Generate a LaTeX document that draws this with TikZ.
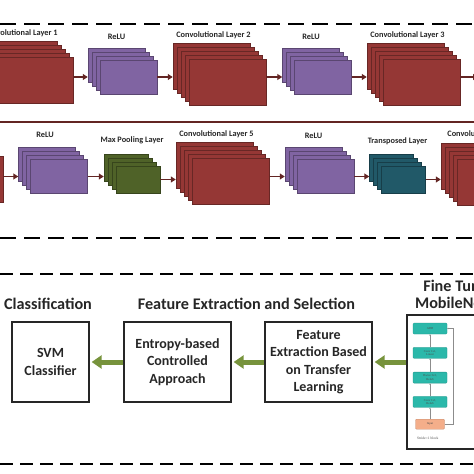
\documentclass[tikz,border=0pt]{standalone}
\usepackage{fontspec}
\setmainfont{Carlito}
\newfontfamily\blockfont{Liberation Serif}
\usetikzlibrary{arrows.meta,positioning,shadows}

\definecolor{convred}{HTML}{953735}
\definecolor{relupurple}{HTML}{8064A2}
\definecolor{poolgreen}{HTML}{4F6228}
\definecolor{transteal}{HTML}{215968}
\definecolor{flowred}{HTML}{632523}
\definecolor{stepgreen}{HTML}{77933C}
\definecolor{blockteal}{HTML}{2BB8AA}
\definecolor{inputsalmon}{HTML}{F4AE8A}

\tikzset{
  sheet/.style 2 args={copy shadow={shadow xshift=-#1,shadow yshift=#1,fill=#2,draw=#2!70!black,line width=.5pt}},
  convstack/.style={fill=convred,draw=convred!70!black,line width=.5pt,inner sep=0pt,minimum width=77pt,minimum height=46pt,
    sheet={16pt}{convred},sheet={12pt}{convred},sheet={8pt}{convred},sheet={4pt}{convred}},
  relustack/.style={fill=relupurple,draw=relupurple!70!black,line width=.5pt,inner sep=0pt,minimum width=57pt,minimum height=34pt,
    sheet={12pt}{relupurple},sheet={8pt}{relupurple},sheet={4pt}{relupurple}},
  smallstack/.style={fill=#1,draw=#1!70!black,line width=.5pt,inner sep=0pt,minimum width=44pt,minimum height=27pt,
    sheet={12pt}{#1},sheet={8pt}{#1},sheet={4pt}{#1}},
  lbl/.style={font=\bfseries\fontsize{8.3}{10}\selectfont,text=black!85,inner sep=0pt},
  head/.style={font=\bfseries\fontsize{16.2}{17}\selectfont,text=black!85,align=center,inner sep=0pt},
  stepbox/.style={draw=black!85,line width=1.3pt,minimum height=80pt,align=center,inner sep=0pt,
    font=\bfseries\fontsize{14}{17.3}\selectfont,text=black!85},
  flow/.style={-{Triangle[length=5pt,width=6pt]},line width=1.8pt,draw=flowred},
  pick/.style={-{Triangle[length=10pt,width=13pt]},line width=5pt,draw=stepgreen,shorten >=2pt},
  sep/.style={line width=2.3pt,dash pattern=on 16pt off 8pt},
  blk/.style={fill=blockteal,draw=blockteal!80!black,line width=.3pt,rounded corners=1pt,minimum width=34pt,minimum height=11pt,
    inner sep=0pt,align=center,font=\blockfont\fontsize{3}{3.4}\selectfont,text=black!70},
  thin/.style={-{Stealth[length=1.6pt,width=1.4pt]},line width=.35pt,draw=black!45}
}

\begin{document}
\begin{tikzpicture}[x=1pt,y=-1pt]
\clip (0,0) rectangle (474,474);

% separators
\draw[sep] (0,24) -- (474,24);
\draw[sep] (0,238) -- (474,238);
\draw[sep,line width=2pt,dash pattern=on 13pt off 7pt] (0,274) -- (474,274);
\draw[sep,line width=2pt,dash pattern=on 13pt off 7pt] (0,464) -- (474,464);

% first row
\node[convstack] (c1) at (34.5,80) {};
\node[relustack] (r1) at (128.5,77) {};
\node[convstack] (c2) at (227.5,82.5) {};
\node[relustack] (r2) at (323,77) {};
\node[convstack] (c3) at (421.5,82) {};
\coordinate (out1) at (478,77);

\node[lbl] (lc1) at ([shift={(-14pt,24pt)}]c1.north) {Convolutional Layer 1};
\node[lbl] (lr1) at ([shift={(-12pt,23pt)}]r1.north) {ReLU};
\node[lbl] (lc2) at ([shift={(-14pt,24pt)}]c2.north) {Convolutional Layer 2};
\node[lbl] (lr2) at ([shift={(-12pt,23pt)}]r2.north) {ReLU};
\node[lbl] (lc3) at ([shift={(-14pt,24pt)}]c3.north) {Convolutional Layer 3};

\draw[flow,shorten >=12pt] (c1.east |- r1.west) -- (r1.west);
\draw[flow,shorten >=16pt] (r1.east) -- (r1.east -| c2.west);
\draw[flow,shorten >=12pt] (c2.east |- r2.west) -- (r2.west);
\draw[flow,shorten >=16pt] (r2.east) -- (r2.east -| c3.west);
\draw[flow] (c3.east |- out1) -- (out1);

% wrap to second row
\coordinate (wrapR) at (474,122);
\coordinate (wrapL) at (0,122);
\draw[line width=1.8pt,draw=flowred] (wrapR) -- (wrapL);

% second row
\node[convstack] (c4) at (-35.5,179) {};
\node[relustack] (r3) at (59,176.5) {};
\node[smallstack=poolgreen] (m1) at (138,179.5) {};
\node[convstack] (c5) at (230.5,181.5) {};
\node[relustack] (r4) at (325.5,176.5) {};
\node[smallstack=transteal] (t1) at (403.5,179.5) {};
\node[convstack] (c6) at (495.5,182) {};

\node[lbl] (lr3) at ([shift={(-14pt,24pt)}]r3.north) {ReLU};
\node[lbl] (lm1) at ([shift={(-6pt,25pt)}]m1.north) {Max Pooling Layer};
\node[lbl] (lc5) at ([shift={(-14pt,24pt)}]c5.north) {Convolutional Layer 5};
\node[lbl] (lr4) at ([shift={(-12pt,23pt)}]r4.north) {ReLU};
\node[lbl] (lt1) at ([shift={(-6pt,25pt)}]t1.north) {Transposed Layer};
\node[lbl] (lc6) at ([shift={(-11pt,25pt)}]c6.north) {Convolutional Layer 6};

\draw[flow,shorten >=12pt] (c4.east |- r3.west) -- (r3.west);
\draw[flow,shorten >=12pt] (r3.east) -- (r3.east -| m1.west);
\draw[flow,shorten >=16pt] (m1.east) -- (m1.east -| c5.west);
\draw[flow,shorten >=12pt] (c5.east |- r4.west) -- (r4.west);
\draw[flow,shorten >=12pt] (r4.east) -- (r4.east -| t1.west);
\draw[flow,shorten >=16pt] (t1.east) -- (t1.east -| c6.west);

% third row
\node[head] (hcls) at (48,304) {Classification};
\node[head] (hsel) at (246.5,304) {Feature Extraction and Selection};
\node[head] (hmob) at (460,294.5) {Fine Tuned\\MobileNetV2};

\node[stepbox,minimum width=77pt] (svm) at (50.5,362) {SVM\\Classifier};
\node[stepbox,minimum width=107pt] (ent) at (177.5,362) {Entropy-based\\Controlled\\Approach};
\node[stepbox,minimum width=107pt] (fe) at (318.5,362) {Feature\\Extraction Based\\on Transfer\\Learning};
\node[draw=black!85,line width=1.5pt,minimum width=84pt,minimum height=134pt] (mob) at (449,382) {};

% block inside the network box
\node[blk] (add) at (430,328.5) {ADD};
\node[blk,below=13pt of add] (lin) {Conv 1x1,\\Linear};
\node[blk,below=13.5pt of lin] (dw) {Dwise 3x3,\\Relu6};
\node[blk,below=13pt of dw] (cr) {Conv 1x1,\\Relu6};
\node[blk,fill=inputsalmon,draw=inputsalmon!80!black,minimum width=29pt,minimum height=10pt,below=11.5pt of cr] (inp) {Input};
\node[anchor=west,inner sep=0pt,font=\blockfont\fontsize{3.6}{4}\selectfont,text=black!70] (strd) at (417,438) {Stride=1 block};

\draw[thin] (inp) -- (cr);
\draw[thin] (cr) -- (dw);
\draw[thin] (dw) -- (lin);
\draw[thin] (lin) -- (add);
\draw[thin] (inp.east) -| ([xshift=6pt]add.east) -- (add.east);

\draw[pick] (mob.west |- fe.east) -- (fe.east);
\draw[pick] (fe.west) -- (ent.east);
\draw[pick] (ent.west) -- (svm.east);
\end{tikzpicture}
\end{document}
